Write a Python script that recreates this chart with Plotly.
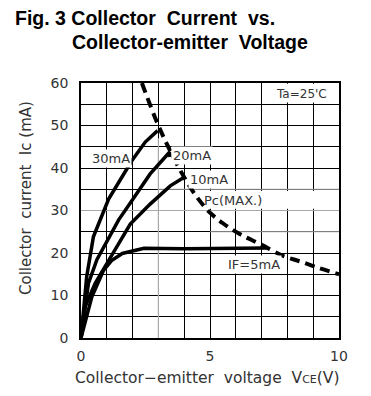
import plotly.graph_objects as go

# ---- data ----
x_30 = [0, 0.1, 0.22, 0.48, 0.75, 1.07, 1.5, 1.97, 2.49, 2.97]
y_30 = [0, 7, 14.4, 23.8, 28, 32.7, 37, 41.7, 46.1, 48.8]

x_20 = [0, 0.12, 0.29, 0.62, 1.13, 1.46, 1.97, 2.68, 3.43, 3.45]
y_20 = [0, 6, 12.9, 18.5, 24.4, 27.8, 32.3, 38.6, 43.7, 42.6]

x_10 = [0, 0.16, 0.55, 1.0, 1.91, 2.68, 3.46, 4.0]
y_10 = [0, 7.4, 12.9, 17.6, 26.8, 31.5, 35.8, 37.8]

x_5 = [0, 0.2, 0.42, 0.88, 1.2, 1.6, 2.44, 4.0, 5.5, 7.2]
y_5 = [0, 5, 9.7, 16, 18.3, 19.9, 21.1, 21.0, 21.0, 21.2]

x_pc = [2.36, 2.97, 3.46, 4.0, 4.5, 5.0, 5.5, 6.17, 6.94, 7.84, 8.5, 9.2, 10.0]
y_pc = [60, 50.4, 44, 37.8, 33.1, 29.5, 27, 24.4, 22.1, 19.3, 18, 16.5, 15.0]

x_ticks = list(range(0, 11))
x_tick_labels = ["0", "", "", "", "", "5", "", "", "", "", "10"]
y_ticks = list(range(0, 61, 5))
y_tick_labels = ["0", "", "10", "", "20", "", "30", "", "40", "", "50", "", "60"]

curve_labels = ["30mA", "20mA", "10mA", "Pc(MAX.)", "IF=5mA"]
label_x = [1.15, 4.3, 4.95, 5.9, 6.7]
label_y = [42.2, 42.9, 37.4, 32.4, 17.4]

FONT = "DejaVu Sans"
TXT = "#333333"

fig = go.Figure()
for xs, ys in [(x_30, y_30), (x_20, y_20), (x_10, y_10), (x_5, y_5)]:
    fig.add_trace(go.Scatter(x=xs, y=ys, mode="lines",
                             line=dict(color="black", width=3.5),
                             showlegend=False, hoverinfo="skip"))
fig.add_trace(go.Scatter(x=x_pc, y=y_pc, mode="lines",
                         line=dict(color="black", width=4, dash="10px,6px", shape="spline"),
                         showlegend=False, hoverinfo="skip"))

shapes = []
shapes.append(dict(type="rect", xref="x", yref="y", x0=4.75, x1=9.97, y0=30.4, y1=34.6,
                   fillcolor="white", line=dict(width=0), layer="between"))
shapes.append(dict(type="rect", xref="x", yref="y", x0=7.06, x1=9.97, y0=55.4, y1=59.8,
                   fillcolor="white", line=dict(width=0), layer="between"))
shapes.append(dict(type="line", xref="x", yref="y", x0=3, x1=3, y0=0, y1=47,
                   line=dict(color="#a8a8a8", width=1.2), layer="between"))
shapes.append(dict(type="line", xref="x", yref="y", x0=0, x1=10, y0=30, y1=30,
                   line=dict(color="#a8a8a8", width=1.2), layer="between"))
shapes.append(dict(type="line", xref="x", yref="y", x0=3, x1=10, y0=35, y1=35,
                   line=dict(color="#a8a8a8", width=1.2), layer="between"))
shapes.append(dict(type="line", xref="x", yref="y", x0=5, x1=10, y0=25, y1=25,
                   line=dict(color="#a8a8a8", width=1.2), layer="between"))

annotations = []
for t, lx, ly in zip(curve_labels, label_x, label_y):
    annotations.append(dict(x=lx, y=ly, xref="x", yref="y", text=t, showarrow=False,
                            font=dict(family=FONT, size=13, color=TXT),
                            bgcolor="white" if t != "Pc(MAX.)" else "rgba(0,0,0,0)",
                            borderpad=1))
annotations.append(dict(x=8.55, y=57.5, xref="x", yref="y", text="Ta=25'C", showarrow=False,
                        font=dict(family=FONT, size=12, color=TXT)))
annotations.append(dict(x=-0.263, y=1.255, xref="paper", yref="paper", xanchor="left",
                        yanchor="middle", showarrow=False,
                        text="<b>Fig. 3 Collector\u00a0\u00a0Current\u00a0\u00a0vs.</b>",
                        font=dict(family="Liberation Sans", size=19.5, color="black")))
annotations.append(dict(x=-0.043, y=1.16, xref="paper", yref="paper", xanchor="left",
                        yanchor="middle", showarrow=False,
                        text="<b>Collector-emitter\u00a0\u00a0Voltage</b>",
                        font=dict(family="Liberation Sans", size=19.5, color="black")))
annotations.append(dict(x=0.49, y=-0.157, xref="paper", yref="paper", showarrow=False,
                        xanchor="center", yanchor="middle",
                        text="Collector\u2212emitter\u00a0\u00a0voltage\u00a0\u00a0V<span style='font-size:11px'>CE</span>(V)",
                        font=dict(family=FONT, size=15.5, color=TXT)))
annotations.append(dict(x=-0.216, y=0.55, xref="paper", yref="paper", showarrow=False,
                        xanchor="center", yanchor="middle", textangle=-90,
                        text="Collector\u00a0\u00a0current\u00a0\u00a0Ic\u00a0(mA)",
                        font=dict(family=FONT, size=15, color=TXT)))

# page has an 8px body margin, so the figure is sized/offset to fit the window
fig.update_layout(
    width=355, height=380,
    margin=dict(l=73, r=24, t=75, b=50),
    paper_bgcolor="white", plot_bgcolor="white",
    shapes=shapes, annotations=annotations,
    xaxis=dict(range=[0, 10], tickvals=x_ticks, ticktext=x_tick_labels,
               showgrid=True, gridcolor="black", gridwidth=1,
               zeroline=False, showline=True, linecolor="black", linewidth=1.5, mirror=True,
               ticks="outside", ticklen=4, tickcolor="rgba(0,0,0,0)",
               tickfont=dict(family=FONT, size=14, color=TXT)),
    yaxis=dict(range=[0, 60], tickvals=y_ticks, ticktext=y_tick_labels,
               showgrid=True, gridcolor="black", gridwidth=1,
               zeroline=False, showline=True, linecolor="black", linewidth=1.5, mirror=True,
               ticks="outside", ticklen=8, tickcolor="rgba(0,0,0,0)",
               tickfont=dict(family=FONT, size=14, color=TXT)),
)

fig.write_html("out.html")
